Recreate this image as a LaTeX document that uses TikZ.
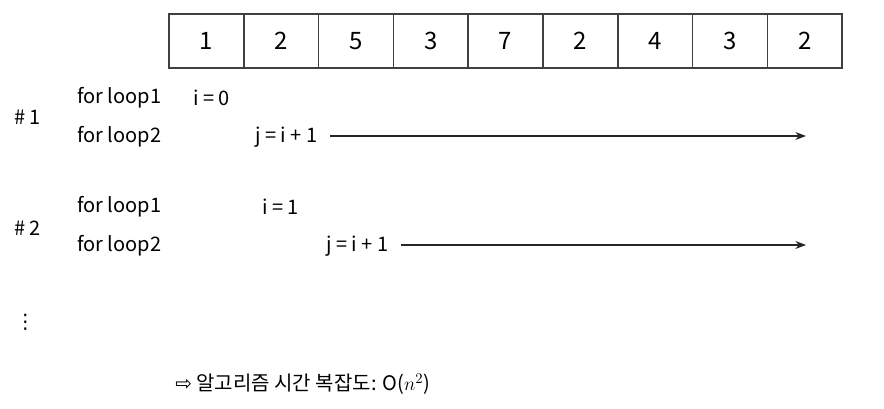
\documentclass[tikz,border=0pt]{standalone}
\usepackage{fontspec}
\setmainfont{Noto Sans CJK KR}
\newfontfamily\arrowfont{DejaVu Sans}
\usetikzlibrary{arrows.meta}
\tikzset{
  cell/.style={draw=black!75,line width=1.2pt,minimum width=74.8*0.75pt,minimum height=54*0.75pt,
    inner sep=0pt,font=\fontsize{18pt}{18pt}\selectfont},
  txt/.style={anchor=west,inner sep=0pt,font=\fontsize{15pt}{18pt}\selectfont},
  loopline/.style={-{Stealth[length=8pt,width=6pt]},line width=0.8pt,black!85}
}
\begin{document}
\begin{tikzpicture}[x=0.75pt,y=-0.75pt]
   \useasboundingbox (0,0) rectangle (884,409);
   % array
   \foreach \v [count=\i] in {1,2,5,3,7,2,4,3,2}
      \node[cell] (c\i) at ({169+74.8*(\i-0.5)},41) {\v};
   % step 1
   \node[txt] (n1)  at (14,117) {\# 1};
   \node[txt] (fa1) at (77,98)  {for loop1};
   \node[txt] (i1)  at (193,98) {i = 0};
   \node[txt] (fb1) at (77,137) {for loop2};
   \node[txt] (j1)  at (255,137) {j = i + 1};
   \coordinate (e1) at (806,136);
   \draw[loopline] (j1.east) ++(12,-1) -- (e1);
   % step 2
   \node[txt] (n2)  at (14,228) {\# 2};
   \node[txt] (fa2) at (77,207) {for loop1};
   \node[txt] (i2)  at (262,207) {i = 1};
   \node[txt] (fb2) at (77,246) {for loop2};
   \node[txt] (j2)  at (326,246) {j = i + 1};
   \coordinate (e2) at (806,245);
   \draw[loopline] (j2.east) ++(12,-1) -- (e2);
   % rest
   \node[txt] (dots) at (15,322) {{\arrowfont ⋮}};
   \node[txt] (res) at (175,384) {{\arrowfont ⇨} 알고리즘 시간 복잡도: O($n^2$)};
\end{tikzpicture}
\end{document}
